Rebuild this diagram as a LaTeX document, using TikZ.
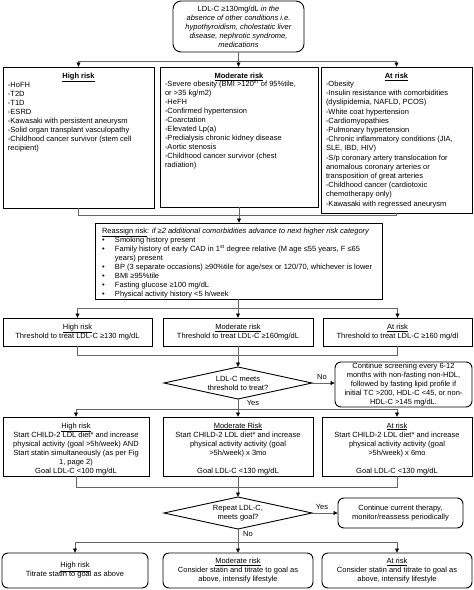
\documentclass[tikz,border=0pt]{standalone}
\usepackage{fontspec}
\setmainfont{Liberation Sans}
\usetikzlibrary{arrows.meta,shapes.geometric}
\begin{document}
\begin{tikzpicture}[x=1pt,y=-1pt,
  every node/.append style={font=\fontsize{7.5}{9}\selectfont, inner sep=0pt, outer sep=0pt, text=black},
  sqbox/.style={draw=black, line width=0.9pt, rectangle, anchor=north west},
  rndbox/.style={sqbox, rounded corners=6pt},
  dia/.style={draw=black, line width=0.9pt, diamond, aspect=4.6, minimum width=148pt, minimum height=32pt, align=center},
  conn/.style={draw=black!60, line width=0.7pt},
  arr/.style={conn, -{Latex[length=4.5pt,width=4.5pt,color=black]}},
  ltext/.style={align=left, anchor=north west},
  ttl/.style={anchor=base, font=\fontsize{7.5}{9}\selectfont\bfseries},
]
\useasboundingbox (0,0) rectangle (474,590);

% ---------- top box
\node[rndbox, rounded corners=8pt, anchor=center, minimum width=131pt, minimum height=51pt, align=center] (top) at (238.5,26.5)
 {LDL-C ≥130mg/dL \textit{in the}\\\textit{absence of other conditions i.e.}\\\textit{hypothyroidism, cholestatic liver}\\\textit{disease, nephrotic syndrome,}\\\textit{medications}};

% ---------- risk category boxes
\node[sqbox, minimum width=151pt, minimum height=141pt] (hr) at (3,67) {};
\node[ttl] (hrh) at ([yshift=-11.5pt]hr.north) {\underline{High risk}};
\node[ltext] (hrl) at ([xshift=5pt,yshift=-14pt]hr.north west)
 {\strut-HoFH\\-T2D\\-T1D\\-ESRD\\-Kawasaki with persistent aneurysm\\-Solid organ transplant vasculopathy\\-Childhood cancer survivor (stem cell\\recipient)};

\node[sqbox, minimum width=158pt, minimum height=140pt] (mr) at (160,67) {};
\node[ttl] (mrh) at ([yshift=-11.5pt]mr.north) {\underline{Moderate risk}};
\node[ltext] (mrl) at ([xshift=5pt,yshift=-13pt]mr.north west)
 {\strut-Severe obesity (BMI >120\textsuperscript{th}  of 95\%tile,\\or >35 kg/m2)\\-HeFH\\-Confirmed hypertension\\-Coarctation\\-Elevated Lp(a)\\-Predialysis chronic kidney disease\\-Aortic stenosis\\-Childhood cancer survivor (chest\\radiation)};

\node[sqbox, minimum width=151pt, minimum height=146pt] (ar) at (321,67) {};
\node[ttl] (arh) at ([yshift=-11.5pt]ar.north) {\underline{At risk}};
\node[ltext, font=\fontsize{7.5}{9.2}\selectfont] (arl) at ([xshift=5pt,yshift=-13pt]ar.north west)
 {\strut-Obesity\\-Insulin resistance with comorbidities\\(dyslipidemia, NAFLD, PCOS)\\-White coat hypertension\\-Cardiomyopathies\\-Pulmonary hypertension\\-Chronic inflammatory conditions (JIA,\\SLE, IBD, HIV)\\-S/p coronary artery translocation for\\anomalous coronary arteries or\\transposition of great arteries\\-Childhood cancer (cardiotoxic\\chemotherapy only)\\-Kawasaki with regressed aneurysm};

% ---------- reassign box
\node[sqbox, minimum width=287pt, minimum height=76pt] (ra) at (95,223) {};
\node[anchor=north west] (ral) at (102,226.7)
 {\begin{tabular}{@{}p{13pt}@{}l@{}}
  \multicolumn{2}{@{}l@{}}{\underline{Reassign risk}: \textit{if ≥2 additional comorbidities advance to next higher risk category}}\\
  \textbullet & Smoking history present\\
  \textbullet & Family history of early CAD in 1\smash{\textsuperscript{st}} degree relative (M age ≤55 years, F ≤65\\
   & years) present\\
  \textbullet & BP (3 separate occasions) ≥90\%tile for age/sex or 120/70, whichever is lower\\
  \textbullet & BMI ≥95\%tile\\
  \textbullet & Fasting glucose ≥100 mg/dL\\
  \textbullet & Physical activity history <5 h/week
 \end{tabular}};

% ---------- threshold boxes
\node[sqbox, minimum width=149pt, minimum height=28pt, align=center] (th1) at (3,318)
 {\underline{High risk}\\Threshold to treat LDL-C ≥130 mg/dL};
\node[sqbox, minimum width=150pt, minimum height=28pt, align=center] (th2) at (163,318)
 {\underline{Moderate risk}\\Threshold to treat LDL-C ≥160mg/dL};
\node[sqbox, minimum width=149pt, minimum height=28pt, align=center] (th3) at (323,318)
 {\underline{At risk}\\Threshold to treat LDL-C ≥160 mg/dl};

% ---------- decision 1
\node[dia] (d1) at (238,383) {LDL-C meets\\threshold to treat?};
\node[rndbox, anchor=center, minimum width=137pt, minimum height=45pt, align=center] (cs) at (403.5,384.5)
 {Continue screening every 6-12\\months with non-fasting non-HDL,\\followed by fasting lipid profile if\\initial TC >200, HDL-C <45, or non-\\HDL-C >145 mg/dL.};
\node (no1) at (322,377) {No};
\node (yes1) at (253,403) {Yes};

% ---------- start boxes
\node[sqbox, minimum width=146pt, minimum height=59pt] (s1) at (3,417) {};
\node[anchor=north, align=center] (s1t) at ([yshift=-4.7pt]s1.north)
 {\strut\underline{High risk}\\Start CHILD-2 LDL diet* and increase\\physical activity (goal >5h/week) AND\\Start statin simultaneously (as per Fig\\1, page 2)\\Goal LDL-C <100 mg/dL};
\node[sqbox, minimum width=150pt, minimum height=59pt] (s2) at (163,417) {};
\node[anchor=north, align=center] (s2t) at ([yshift=-4.7pt]s2.north)
 {\strut\underline{Moderate Risk}\\Start CHILD-2 LDL diet* and increase\\physical activity activity (goal\\>5h/week) x 3mo\\[9pt]Goal LDL-C <130 mg/dL};
\node[sqbox, minimum width=150pt, minimum height=59pt] (s3) at (322,417) {};
\node[anchor=north, align=center] (s3t) at ([yshift=-4.7pt]s3.north)
 {\strut\underline{At risk}\\Start CHILD-2 LDL diet* and increase\\physical activity activity (goal\\>5h/week) x 6mo\\[9pt]Goal LDL-C <130 mg/dL};

% ---------- decision 2
\node[dia] (d2) at (238,513) {Repeat LDL-C,\\meets goal?};
\node[rndbox, anchor=center, minimum width=125pt, minimum height=30pt, align=center] (cc) at (400.5,513)
 {Continue current therapy,\\monitor/reassess periodically};
\node (yes2) at (322,507) {Yes};
\node (no2) at (248,534) {No};

% ---------- final boxes
\node[rndbox, minimum width=146pt, minimum height=35pt, align=center] (f1) at (2,553)
 {\underline{High risk}\\Titrate statin to goal as above};
\node[rndbox, minimum width=150pt, minimum height=35pt, align=center] (f2) at (163,553)
 {\underline{Moderate risk}\\Consider statin and titrate to goal as\\above, intensify lifestyle};
\node[rndbox, minimum width=150pt, minimum height=35pt, align=center] (f3) at (322,553)
 {\underline{At risk}\\Consider statin and titrate to goal as\\above, intensify lifestyle};

% ---------- connectors
\coordinate (b1) at (238,61);
\draw[arr] (top.south) -- (top.south |- mr.north);
\draw[conn] (hr.north |- b1) -- (ar.north |- b1);
\draw[arr] (hr.north |- b1) -- (hr.north);
\draw[arr] (ar.north |- b1) -- (ar.north);

\coordinate (b2) at (238,215);
\draw[conn] (hr.south) -- (hr.south |- b2) -- (ar.south |- b2) -- (ar.south);
\draw[arr] (mr.south) -- (mr.south |- ra.north);

\coordinate (b3) at (238,308);
\draw[conn] (ra.south) -- (ra.south |- b3);
\draw[conn] (th1.north |- b3) -- (th3.north |- b3);
\draw[arr] (th1.north |- b3) -- (th1.north);
\draw[arr] (th2.north |- b3) -- (th2.north);
\draw[arr] (th3.north |- b3) -- (th3.north);

\coordinate (b4) at (238,355);
\draw[conn] (th1.south) -- (th1.south |- b4) -- (th3.south |- b4) -- (th3.south);
\draw[conn] (th2.south) -- (th2.south |- b4);
\draw[arr] (d1.north |- b4) -- (d1.north);
\draw[arr] (d1.east) -- (d1.east -| cs.west);

\coordinate (b5) at (238,409);
\draw[conn] (d1.south) -- (d1.south |- b5);
\draw[conn] (s1.north |- b5) -- (s3.north |- b5);
\draw[arr] (s1.north |- b5) -- (s1.north);
\draw[arr] (s2.north |- b5) -- (s2.north);
\draw[arr] (s3.north |- b5) -- (s3.north);

\coordinate (b6) at (238,487);
\draw[conn] (s1.south) -- (s1.south |- b6) -- (s3.south |- b6) -- (s3.south);
\draw[conn] (s2.south) -- (s2.south |- b6);
\draw[arr] (d2.north |- b6) -- (d2.north);
\draw[arr] (d2.east) -- (d2.east -| cc.west);

\coordinate (b7) at (238,542);
\draw[conn] (d2.south) -- (d2.south |- b7);
\draw[conn] (f1.north |- b7) -- (f3.north |- b7);
\draw[arr] (f1.north |- b7) -- (f1.north);
\draw[arr] (f2.north |- b7) -- (f2.north);
\draw[arr] (f3.north |- b7) -- (f3.north);
\end{tikzpicture}
\end{document}
